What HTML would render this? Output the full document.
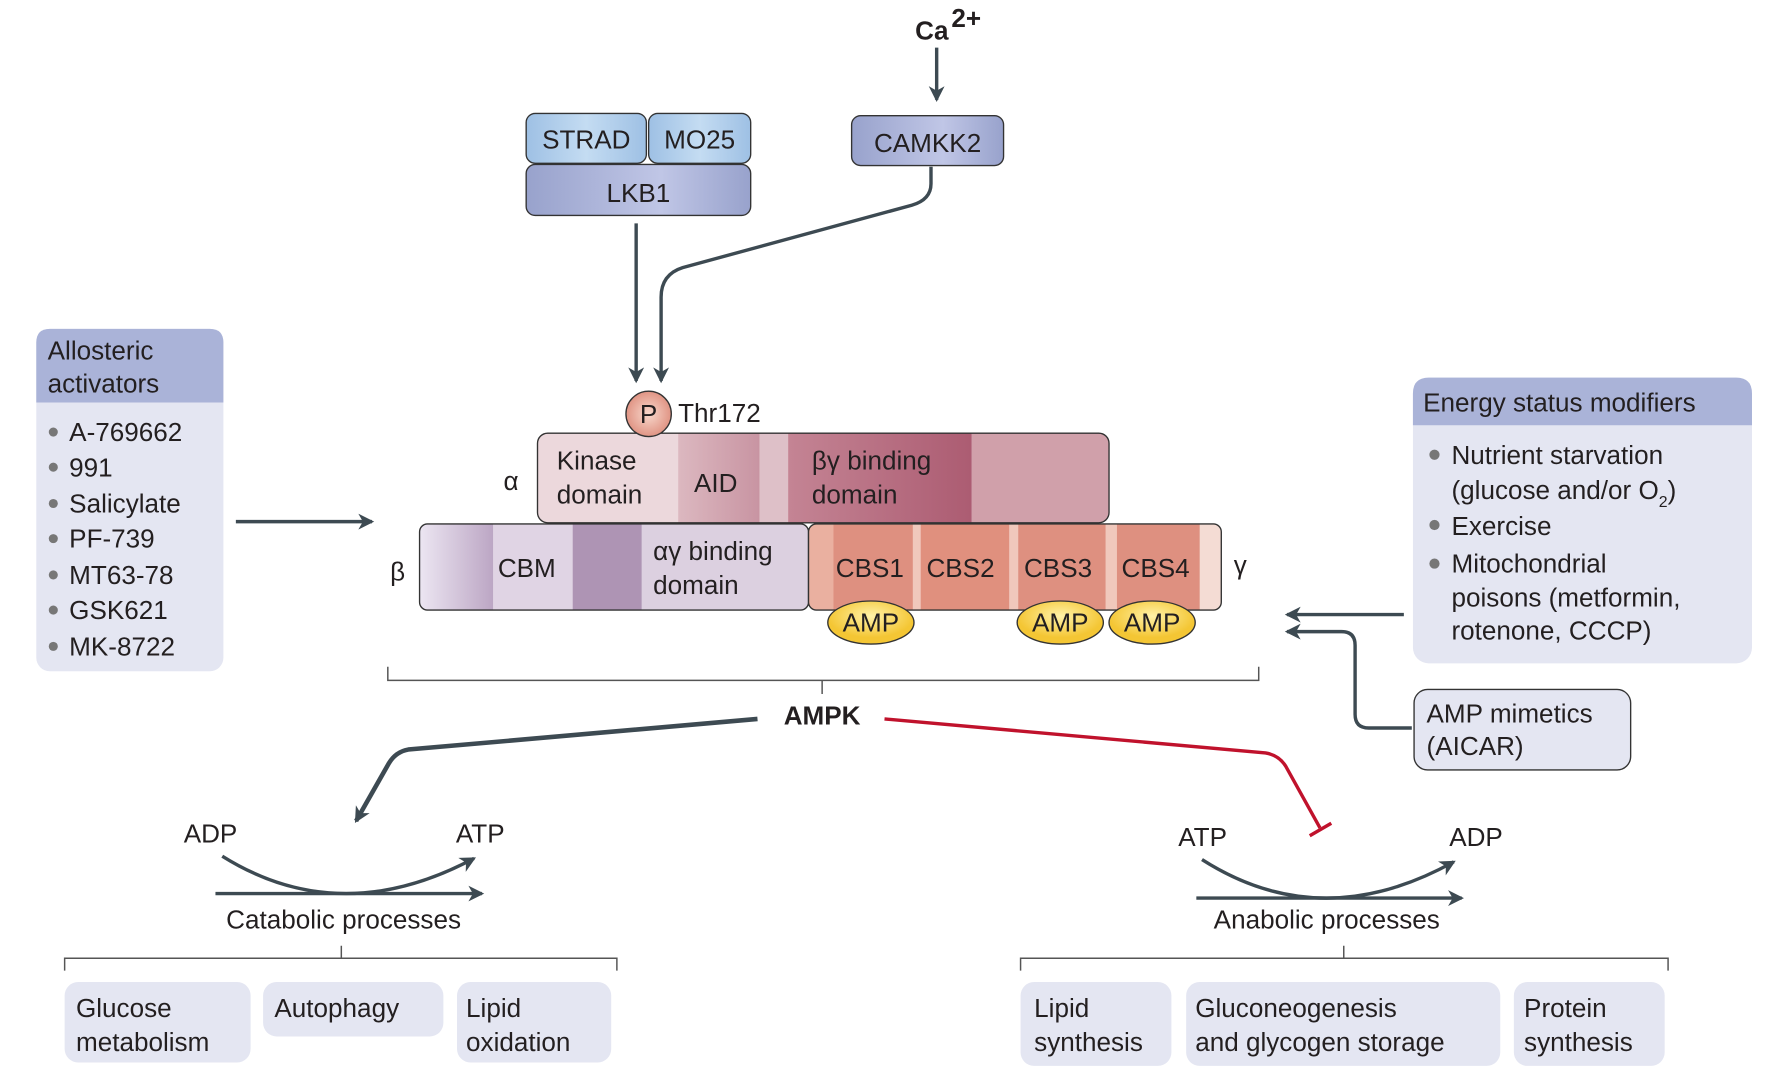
<!DOCTYPE html>
<html><head><meta charset="utf-8"><style>
html,body{margin:0;padding:0;background:#fff;}
svg{display:block;}
text{font-family:"Liberation Sans",sans-serif;fill:#231f20;font-size:23px;}
</style></head><body>
<svg width="1769" height="1075" viewBox="0 0 1560 948" preserveAspectRatio="none" xmlns="http://www.w3.org/2000/svg">
<defs>
<marker id="ah2" markerWidth="16" markerHeight="14" refX="12" refY="7" orient="auto" markerUnits="userSpaceOnUse"><path d="M0,0 L14,7 L0,14 L4,7 Z" fill="#3d4a52"/></marker>
<linearGradient id="blue" x1="0" x2="1"><stop offset="0" stop-color="#9ec0e4"/><stop offset="0.5" stop-color="#c4dcf2"/><stop offset="1" stop-color="#9ec0e4"/></linearGradient>
<linearGradient id="purp" x1="0" x2="1"><stop offset="0" stop-color="#98a2cc"/><stop offset="0.6" stop-color="#c0c6e6"/><stop offset="1" stop-color="#98a2cc"/></linearGradient>
<linearGradient id="b1" x1="0" x2="1"><stop offset="0" stop-color="#ece6f2"/><stop offset="1" stop-color="#bca6c4"/></linearGradient>
<linearGradient id="a2" x1="0" x2="1"><stop offset="0" stop-color="#dcb8c0"/><stop offset="1" stop-color="#c894a2"/></linearGradient>
<linearGradient id="a4" x1="0" x2="1"><stop offset="0" stop-color="#c48494"/><stop offset="1" stop-color="#ac5c72"/></linearGradient>
<radialGradient id="pg"><stop offset="0" stop-color="#f8d8cc"/><stop offset="1" stop-color="#e09484"/></radialGradient>
<radialGradient id="amp" cy="0.35"><stop offset="0" stop-color="#fff2a8"/><stop offset="1" stop-color="#f4c634"/></radialGradient>
</defs>

<!-- Ca2+ -->
<text x="807" y="35" font-weight="bold" font-size="24">Ca</text><text x="839" y="24" font-size="12" font-weight="bold">2+</text>
<line x1="826" y1="42" x2="826" y2="88" stroke="#3d4a52" stroke-width="3" marker-end="url(#ah2)"/>

<!-- kinases -->
<rect x="464" y="100" width="106" height="44" rx="8" fill="url(#blue)" stroke="#333" stroke-width="1.2"/>
<rect x="572" y="100" width="90" height="44" rx="8" fill="url(#blue)" stroke="#333" stroke-width="1.2"/>
<rect x="464" y="145" width="198" height="45" rx="8" fill="url(#purp)" stroke="#333" stroke-width="1.2"/>
<text x="517" y="131" text-anchor="middle">STRAD</text>
<text x="617" y="131" text-anchor="middle">MO25</text>
<text x="563" y="178" text-anchor="middle">LKB1</text>
<rect x="751" y="102" width="134" height="44" rx="8" fill="url(#purp)" stroke="#333" stroke-width="1.2"/>
<text x="818" y="134" text-anchor="middle">CAMKK2</text>

<line x1="561" y1="197" x2="561" y2="336" stroke="#3d4a52" stroke-width="3" marker-end="url(#ah2)"/>
<path d="M821,147 L821,162 Q821,176 804,181 L602,236 Q583,242 583,262 L583,336" fill="none" stroke="#3d4a52" stroke-width="3" marker-end="url(#ah2)"/>

<!-- alpha -->
<clipPath id="ca"><rect x="474" y="382" width="504" height="79" rx="9"/></clipPath>
<g clip-path="url(#ca)">
<rect x="474" y="382" width="124" height="79" fill="#ecd8dc"/>
<rect x="598" y="382" width="72" height="79" fill="url(#a2)"/>
<rect x="670" y="382" width="25" height="79" fill="#dec0c8"/>
<rect x="695" y="382" width="162" height="79" fill="url(#a4)"/>
<rect x="857" y="382" width="121" height="79" fill="#d0a0aa"/>
</g>
<rect x="474" y="382" width="504" height="79" rx="9" fill="none" stroke="#333" stroke-width="1.2"/>
<text x="491" y="414">Kinase</text><text x="491" y="444">domain</text>
<text x="612" y="434">AID</text>
<text x="716" y="414">βγ binding</text><text x="716" y="444">domain</text>
<text x="444" y="432" font-family="Liberation Serif, serif" font-size="25">α</text>

<!-- P -->
<circle cx="572" cy="365" r="20" fill="url(#pg)" stroke="#333" stroke-width="1.2"/>
<text x="572" y="373" text-anchor="middle">P</text>
<text x="598" y="372" font-size="21">Thr172</text>

<!-- beta -->
<clipPath id="cb"><rect x="370" y="462" width="343" height="76" rx="7"/></clipPath>
<g clip-path="url(#cb)">
<rect x="370" y="462" width="65" height="76" fill="url(#b1)"/>
<rect x="435" y="462" width="70" height="76" fill="#e0d4e4"/>
<rect x="505" y="462" width="61" height="76" fill="#ae94b4"/>
<rect x="566" y="462" width="147" height="76" fill="#dcd0e0"/>
</g>
<rect x="370" y="462" width="343" height="76" rx="7" fill="none" stroke="#333" stroke-width="1.2"/>
<text x="439" y="509">CBM</text>
<text x="576" y="494">αγ binding</text><text x="576" y="524">domain</text>
<text x="344" y="512" font-family="Liberation Serif, serif" font-size="25">β</text>

<!-- gamma -->
<clipPath id="cg"><rect x="713" y="462" width="364" height="76" rx="7"/></clipPath>
<g clip-path="url(#cg)">
<rect x="713" y="462" width="364" height="76" fill="#eab0a0"/>
<rect x="735" y="462" width="70" height="76" fill="#de9080"/>
<rect x="805" y="462" width="7" height="76" fill="#f0c8bc"/>
<rect x="812" y="462" width="78" height="76" fill="#e0907e"/>
<rect x="890" y="462" width="8" height="76" fill="#f0c8bc"/>
<rect x="898" y="462" width="77" height="76" fill="#de9080"/>
<rect x="975" y="462" width="10" height="76" fill="#f0c8bc"/>
<rect x="985" y="462" width="73" height="76" fill="#de9080"/>
<rect x="1058" y="462" width="19" height="76" fill="#f4dcd4"/>
</g>
<rect x="713" y="462" width="364" height="76" rx="7" fill="none" stroke="#333" stroke-width="1.2"/>
<text x="737" y="509">CBS1</text><text x="817" y="509">CBS2</text><text x="903" y="509">CBS3</text><text x="989" y="509">CBS4</text>
<text x="1088" y="506" font-family="Liberation Serif, serif" font-size="25">γ</text>

<ellipse cx="768" cy="549" rx="38" ry="19" fill="url(#amp)" stroke="#333" stroke-width="1.2"/>
<ellipse cx="935" cy="549" rx="38" ry="19" fill="url(#amp)" stroke="#333" stroke-width="1.2"/>
<ellipse cx="1016" cy="549" rx="38" ry="19" fill="url(#amp)" stroke="#333" stroke-width="1.2"/>
<text x="768" y="557" text-anchor="middle">AMP</text>
<text x="935" y="557" text-anchor="middle">AMP</text>
<text x="1016" y="557" text-anchor="middle">AMP</text>

<!-- AMPK bracket -->
<path d="M342,588 L342,600 L1110,600 L1110,588 M725,600 L725,612" fill="none" stroke="#555" stroke-width="1.3"/>
<text x="725" y="639" text-anchor="middle" font-weight="bold" font-size="24">AMPK</text>

<path d="M668,634 L360,661 Q349,663 343,673 L314,724" fill="none" stroke="#3d4a52" stroke-width="4" marker-end="url(#ah2)"/>
<path d="M780,634 L1116,664 Q1128,666 1134,676 L1164,730" fill="none" stroke="#c0122c" stroke-width="3"/>
<line x1="1155" y1="737" x2="1174" y2="726" stroke="#c0122c" stroke-width="3"/>

<!-- Allosteric activators -->
<rect x="32" y="290" width="165" height="302" rx="12" fill="#e4e6f2"/>
<path d="M32,355 L32,302 Q32,290 44,290 L185,290 Q197,290 197,302 L197,355 Z" fill="#aab3d8"/>
<text x="42" y="317">Allosteric</text><text x="42" y="346">activators</text>
<g fill="#777"><circle cx="47" cy="381" r="4"/><circle cx="47" cy="412" r="4"/><circle cx="47" cy="444" r="4"/><circle cx="47" cy="475" r="4"/><circle cx="47" cy="507" r="4"/><circle cx="47" cy="538" r="4"/><circle cx="47" cy="570" r="4"/></g>
<text x="61" y="389">A-769662</text><text x="61" y="420">991</text><text x="61" y="452">Salicylate</text><text x="61" y="483">PF-739</text><text x="61" y="515">MT63-78</text><text x="61" y="546">GSK621</text><text x="61" y="578">MK-8722</text>
<line x1="208" y1="460" x2="328" y2="460" stroke="#3d4a52" stroke-width="3" marker-end="url(#ah2)"/>

<!-- Energy status -->
<rect x="1246" y="333" width="299" height="252" rx="14" fill="#e4e6f2"/>
<path d="M1246,375 L1246,347 Q1246,333 1260,333 L1531,333 Q1545,333 1545,347 L1545,375 Z" fill="#aab3d8"/>
<text x="1255" y="363">Energy status modifiers</text>
<g fill="#777"><circle cx="1265" cy="401" r="4.5"/><circle cx="1265" cy="463" r="4.5"/><circle cx="1265" cy="497" r="4.5"/></g>
<text x="1280" y="409">Nutrient starvation</text>
<text x="1280" y="440">(glucose and/or O<tspan font-size="14" dy="7">2</tspan><tspan dy="-7">)</tspan></text>
<text x="1280" y="472">Exercise</text>
<text x="1280" y="505">Mitochondrial</text>
<text x="1280" y="535">poisons (metformin,</text>
<text x="1280" y="564">rotenone, CCCP)</text>

<line x1="1238" y1="542" x2="1135" y2="542" stroke="#3d4a52" stroke-width="3" marker-end="url(#ah2)"/>
<path d="M1245,642 L1207,642 Q1195,642 1195,630 L1195,569 Q1195,557 1183,557 L1135,557" fill="none" stroke="#3d4a52" stroke-width="3" marker-end="url(#ah2)"/>

<rect x="1247" y="608" width="191" height="71" rx="12" fill="#e4e6f2" stroke="#333" stroke-width="1.2"/>
<text x="1258" y="637">AMP mimetics</text><text x="1258" y="666">(AICAR)</text>

<!-- Catabolic -->
<text x="162" y="743">ADP</text><text x="402" y="743">ATP</text>
<path d="M196,755 Q300,820 418,757" fill="none" stroke="#3d4a52" stroke-width="3" marker-end="url(#ah2)"/>
<line x1="190" y1="788" x2="425" y2="788" stroke="#3d4a52" stroke-width="3" marker-end="url(#ah2)"/>
<text x="303" y="819" text-anchor="middle">Catabolic processes</text>
<path d="M57,856 L57,845 L544,845 L544,856 M301,845 L301,834" fill="none" stroke="#555" stroke-width="1.3"/>
<rect x="57" y="866" width="164" height="71" rx="12" fill="#e4e6f2"/>
<rect x="232" y="866" width="159" height="48" rx="12" fill="#e4e6f2"/>
<rect x="403" y="866" width="136" height="71" rx="12" fill="#e4e6f2"/>
<text x="67" y="897">Glucose</text><text x="67" y="927">metabolism</text>
<text x="242" y="897">Autophagy</text>
<text x="411" y="897">Lipid</text><text x="411" y="927">oxidation</text>

<!-- Anabolic -->
<text x="1039" y="746">ATP</text><text x="1278" y="746">ADP</text>
<path d="M1060,758 Q1165,825 1282,760" fill="none" stroke="#3d4a52" stroke-width="3" marker-end="url(#ah2)"/>
<line x1="1055" y1="792" x2="1289" y2="792" stroke="#3d4a52" stroke-width="3" marker-end="url(#ah2)"/>
<text x="1170" y="819" text-anchor="middle">Anabolic processes</text>
<path d="M900,856 L900,845 L1471,845 L1471,856 M1185,845 L1185,834" fill="none" stroke="#555" stroke-width="1.3"/>
<rect x="900" y="866" width="133" height="74" rx="12" fill="#e4e6f2"/>
<rect x="1046" y="866" width="277" height="74" rx="12" fill="#e4e6f2"/>
<rect x="1335" y="866" width="133" height="74" rx="12" fill="#e4e6f2"/>
<text x="912" y="897">Lipid</text><text x="912" y="927">synthesis</text>
<text x="1054" y="897">Gluconeogenesis</text><text x="1054" y="927">and glycogen storage</text>
<text x="1344" y="897">Protein</text><text x="1344" y="927">synthesis</text>
</svg>
</body></html>
